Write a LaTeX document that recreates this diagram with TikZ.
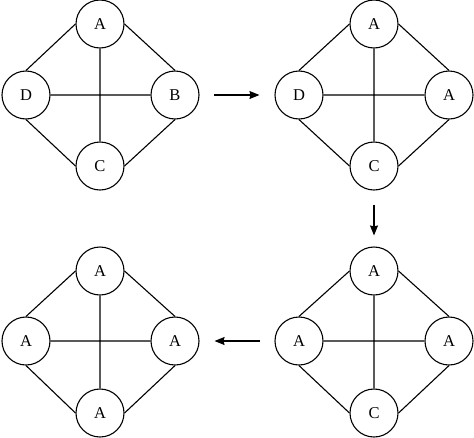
\documentclass[tikz,border=0pt]{standalone}
\usepackage{fontspec}
\setmainfont{Liberation Serif}
\usetikzlibrary{arrows.meta}
\begin{document}
\begin{tikzpicture}[x=1pt,y=-1pt,line width=1.1pt,
  vertex/.style={circle,draw,minimum size=48pt,inner sep=0pt,font=\fontsize{16.5}{18}\selectfont},
  step arrow/.style={-{Stealth[length=10pt,width=8pt,inset=1pt]}}]
\useasboundingbox (0,0) rectangle (474,437);
% graph 1
\node[vertex] (a1) at (100,24) {A};
\node[vertex] (d1) at (26,95) {D};
\node[vertex] (b1) at (175,95) {B};
\node[vertex] (c1) at (100,166) {C};
\draw (d1.north) -- (a1.west) (a1.east) -- (b1.north)
  (d1.south) -- (c1.west) (b1.south) -- (c1.east)
  (a1) -- (c1) (d1) -- (b1);
% graph 2
\node[vertex] (a2) at (374,24) {A};
\node[vertex] (d2) at (299,95) {D};
\node[vertex] (b2) at (449,95) {A};
\node[vertex] (c2) at (374,166) {C};
\draw (d2.north) -- (a2.west) (a2.east) -- (b2.north)
  (d2.south) -- (c2.west) (b2.south) -- (c2.east)
  (a2) -- (c2) (d2) -- (b2);
% graph 3
\node[vertex] (a3) at (374,271) {A};
\node[vertex] (d3) at (299,341) {A};
\node[vertex] (b3) at (449,341) {A};
\node[vertex] (c3) at (374,413) {C};
\draw (d3.north) -- (a3.west) (a3.east) -- (b3.north)
  (d3.south) -- (c3.west) (b3.south) -- (c3.east)
  (a3) -- (c3) (d3) -- (b3);
% graph 4
\node[vertex] (a4) at (100,271) {A};
\node[vertex] (d4) at (26,341) {A};
\node[vertex] (b4) at (175,341) {A};
\node[vertex] (c4) at (100,413) {A};
\draw (d4.north) -- (a4.west) (a4.east) -- (b4.north)
  (d4.south) -- (c4.west) (b4.south) -- (c4.east)
  (a4) -- (c4) (d4) -- (b4);
% steps
\draw[step arrow] ([xshift=14pt]b1.east) -- ([xshift=-15pt]d2.west);
\draw[step arrow] ([yshift=-14pt]c2.south) -- ([yshift=11pt]a3.north);
\draw[step arrow] ([xshift=-14pt]d3.west) -- ([xshift=15pt]b4.east);
\end{tikzpicture}
\end{document}
